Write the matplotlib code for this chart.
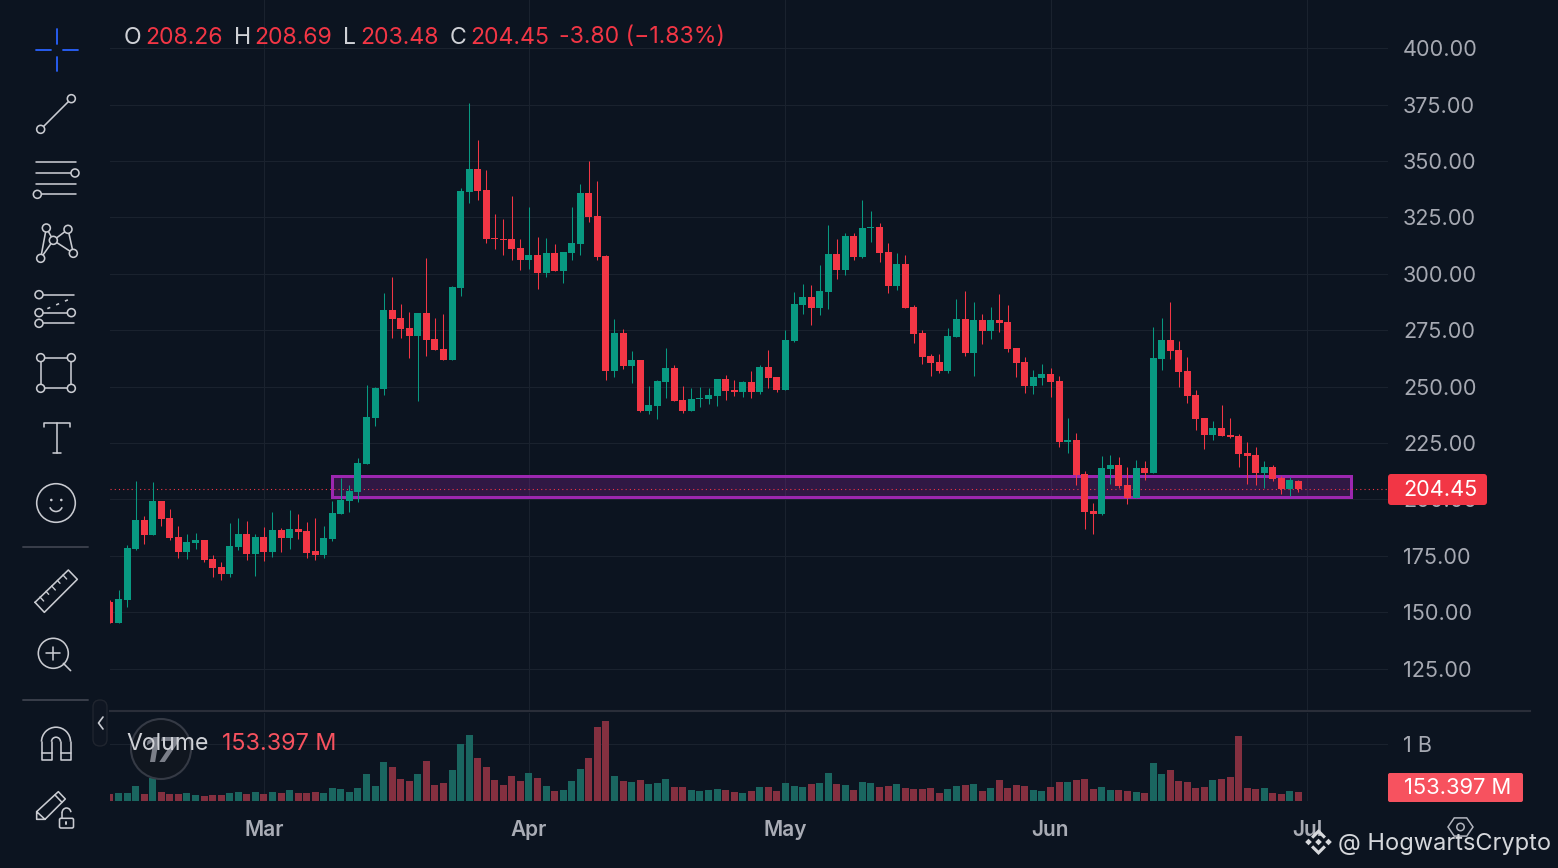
import matplotlib
matplotlib.use("Agg")
import matplotlib.pyplot as plt
from matplotlib.patches import Circle, Rectangle, FancyBboxPatch, Arc, Polygon
import numpy as np

plt.rcParams['font.family'] = ['Inter', 'DejaVu Sans']

# === data, one candle per day ===
opens = [154.6,145.3,155.5,178.1,190.9,184.3,199.3,191.8,183.4,176.7,180.7,182.1,173.6,170.1,167.0,179.0,184.7,175.9,183.4,176.7,
         186.5,182.9,186.9,186.0,177.2,175.4,182.5,193.6,199.3,203.3,215.7,236.1,249.0,284.0,280.5,276.0,272.5,282.7,271.1,266.7,
         261.8,293.7,336.3,346.5,337.2,315.9,315.5,315.5,311.5,306.1,308.4,300.4,309.3,301.3,309.3,313.2,335.8,325.7,307.9,256.9,
         273.8,259.2,261.8,239.2,241.4,252.1,258.3,244.1,239.2,244.5,244.5,245.9,253.4,248.5,247.6,252.1,247.6,258.7,254.3,248.5,
         270.2,286.2,289.8,284.9,292.0,308.8,301.7,316.8,307.5,320.4,320.8,309.7,294.6,304.4,285.3,273.8,263.6,261.0,257.0,272.0,
         280.0,265.0,279.6,274.7,279.6,278.7,267.2,261.0,250.3,253.9,255.6,252.5,225.5,226.4,211.3,194.9,193.6,213.6,215.3,206.5,
         200.7,214.0,211.8,262.3,270.7,266.3,257.0,246.4,236.2,228.6,231.7,228.6,228.2,220.7,219.8,211.8,214.4,209.6,204.7,208.26]
highs = [155.5,159.9,179.8,208.2,192.7,207.8,199.3,195.8,188.3,184.7,185.2,182.1,175.4,172.3,189.6,191.8,190.5,184.7,187.8,194.5,
         187.4,195.4,193.6,190.0,191.8,188.3,199.3,209.5,206.4,218.4,250.8,249.9,291.5,298.6,286.7,283.1,282.7,307.0,280.5,282.2,
         294.6,338.1,375.7,359.3,346.0,326.5,324.3,334.5,315.5,329.6,316.3,315.9,313.2,309.7,329.6,339.8,350.0,341.2,308.4,280.0,
         275.6,265.8,261.8,250.3,253.0,267.1,259.6,250.3,249.4,249.9,249.4,253.4,255.2,253.0,252.5,256.9,259.6,266.3,254.3,275.1,
         292.0,295.5,295.1,304.0,321.7,315.5,318.1,318.1,332.8,327.9,322.6,313.7,309.3,308.4,286.2,275.1,264.5,264.5,276.0,288.9,
         292.4,287.6,282.2,285.3,291.1,286.2,267.2,263.2,257.4,260.1,258.3,254.8,236.1,229.5,212.7,198.5,219.3,219.8,218.9,214.4,
         217.5,217.1,276.5,280.5,287.6,270.3,263.2,248.6,236.2,234.8,241.9,236.2,229.1,225.5,223.3,217.1,215.3,210.5,210.0,208.69]
lows = [145.3,145.3,152.4,177.6,180.3,184.3,188.3,182.1,174.1,173.6,178.1,172.3,165.7,164.3,165.7,177.6,173.2,166.1,172.7,174.5,
        176.7,178.1,182.5,174.1,173.2,174.1,181.6,193.6,194.5,198.9,215.7,232.6,246.3,271.6,271.6,262.7,243.7,263.6,266.3,261.8,
        261.8,290.2,331.4,332.7,313.7,311.0,308.4,306.1,301.7,302.2,293.3,298.6,301.3,296.0,306.1,308.4,323.0,306.1,253.0,254.3,
        257.8,251.6,238.8,237.9,235.7,245.0,243.6,238.3,239.2,241.0,242.3,241.4,244.1,245.9,245.4,245.0,246.8,249.4,247.6,248.5,
        269.8,282.2,277.4,281.8,284.5,297.8,299.5,306.2,307.1,314.2,305.3,291.5,292.9,284.9,269.4,260.1,254.8,256.1,256.1,272.0,
        263.6,254.8,268.9,271.2,274.3,265.4,254.3,247.2,246.8,250.8,245.4,223.3,220.6,206.4,187.0,184.7,193.2,206.9,205.1,198.0,
        200.7,208.7,211.8,257.4,262.3,249.9,242.8,230.8,222.4,226.4,228.2,227.3,214.4,206.9,206.5,205.1,208.2,202.5,201.6,203.48]
closes = [145.3,155.9,178.5,190.9,184.3,199.3,191.4,182.9,176.7,181.2,182.1,173.2,169.6,167.0,179.4,184.7,175.9,183.4,176.7,186.5,
          182.9,186.9,185.6,176.3,175.4,182.9,194.0,199.8,203.8,216.2,236.6,249.4,284.0,280.0,275.6,272.5,282.7,270.7,266.3,261.8,
          294.2,336.7,346.5,336.7,315.5,315.5,315.0,311.0,306.1,308.4,300.4,309.3,301.3,309.7,313.7,335.8,325.2,307.5,256.9,273.8,
          259.2,261.8,239.2,241.9,252.5,258.3,243.6,239.2,244.5,245.0,246.3,253.4,248.1,247.6,252.1,247.6,258.7,253.8,248.5,270.7,
          286.6,289.8,284.9,292.4,308.8,301.7,316.8,307.5,320.4,320.8,309.3,294.6,304.4,284.9,273.4,263.2,260.5,257.0,272.5,280.0,
          265.0,279.6,274.7,279.6,278.2,266.7,260.5,250.3,254.3,255.6,252.1,225.5,226.4,210.9,194.5,193.6,214.0,215.3,206.0,200.7,
          214.0,211.8,262.8,270.7,265.9,256.6,245.9,235.7,228.6,231.7,228.2,227.7,220.2,219.3,211.8,214.4,209.1,204.7,208.7,204.45]
volumes = [124,142,142,266,124,407,159,124,124,142,106,89,106,106,142,159,124,159,124,159,
           142,195,142,142,159,142,230,212,159,230,478,266,690,602,389,354,478,708,283,319,
           549,1009,1168,761,602,372,283,443,354,496,407,266,177,195,354,566,761,1310,1416,443,
           354,336,372,301,319,389,248,248,195,177,195,212,195,159,142,177,248,248,177,319,
           266,248,301,319,496,301,283,195,336,319,248,266,301,230,212,212,230,142,212,266,
           283,301,177,230,372,230,283,266,195,177,248,336,336,372,389,212,248,195,195,177,
           159,142,673,478,549,354,336,230,248,372,389,425,1150,230,212,230,142,124,177,153.397]

price_ticks = [125, 150, 175, 200, 225, 250, 275, 300, 325, 350, 375, 400]
month_labels = ["Mar", "Apr", "May", "Jun", "Jul"]
month_pos = [18, 49, 79, 110, 140]
zone_low, zone_high = 200.9, 210.2
zone_start, zone_end = 26.02, 145.09
last_close = closes[-1]
last_volume = volumes[-1]

# colours
bg = "#0c1420"
grid = "#1a222e"
up = "#089981"
down = "#f23645"
up_v = "#1a6660"
down_v = "#843040"
txt = "#a6a9b2"
icon = "#c9cbd1"

W, H = 1558, 868
fig = plt.figure(figsize=(W / 100, H / 100), dpi=100, facecolor=bg)


def axes_px(left, top, right, bottom):
    return fig.add_axes([left / W, 1 - bottom / H, (right - left) / W, (bottom - top) / H], facecolor=bg)


ax = axes_px(110, 0, 1388, 711)
vol = axes_px(110, 713, 1388, 801)
x = np.arange(len(opens))
x_max = 1278 / 8.55

# === candles ===
colors = [up if c >= o else down for o, c in zip(opens, closes)]
bottoms = [min(o, c) for o, c in zip(opens, closes)]
heights = [abs(c - o) for o, c in zip(opens, closes)]
ax.add_patch(Rectangle((zone_start, zone_low), zone_end - zone_start, zone_high - zone_low,
                       facecolor="#9c27b0", alpha=0.25, edgecolor="none", zorder=2))
ax.add_patch(Rectangle((zone_start, zone_low), zone_end - zone_start, zone_high - zone_low,
                       facecolor="none", edgecolor="#9c27b0", linewidth=2.16, joinstyle="miter", zorder=2.5))
ax.axhline(last_close, color=down, lw=0.8, ls=(0, (1, 2.8)), zorder=3)
ax.vlines(x, lows, highs, color=colors, lw=0.75, zorder=4)
ax.bar(x, heights, bottom=bottoms, width=7 / 8.55, color=colors, linewidth=0, zorder=5)

ax.set_xlim(0, x_max)
ax.set_ylim(106.25, 421.4)
ax.set_xticks(month_pos)
ax.set_xticklabels([])
ax.set_yticks(price_ticks)
ax.set_yticklabels([f"{p:.2f}" for p in price_ticks])
ax.yaxis.tick_right()
ax.tick_params(axis='both', length=0)
ax.tick_params(axis='y', pad=10.8, labelsize=15.6, labelcolor=txt)
ax.grid(True, color=grid, lw=0.8, zorder=0)
ax.set_axisbelow(True)
for lab in ax.get_yticklabels():
    lab.set_verticalalignment('center_baseline')

# === volume ===
vol_colors = [up_v if c >= o else down_v for o, c in zip(opens, closes)]
vol.bar(x, volumes, width=7 / 8.55, color=vol_colors, linewidth=0, zorder=3)
vol.set_xlim(0, x_max)
vol.set_ylim(0, 1557)
vol.set_xticks(month_pos)
vol.set_xticklabels(month_labels, fontsize=15, fontweight=600, color="#a9acb5")
vol.set_yticks([1000])
vol.set_yticklabels(["1 B"])
vol.yaxis.tick_right()
vol.tick_params(axis='both', length=0)
vol.tick_params(axis='y', pad=10.8, labelsize=15.6, labelcolor=txt)
vol.tick_params(axis='x', pad=14)
vol.grid(True, color=grid, lw=0.8, zorder=0)
vol.set_axisbelow(True)
for a in (ax, vol):
    for s in a.spines.values():
        s.set_visible(False)

# === overlay in pixel coordinates: toolbar, labels ===
ov = fig.add_axes([0, 0, 1, 1], zorder=10)
ov.set_xlim(0, W)
ov.set_ylim(H, 0)
ov.axis("off")
ov.patch.set_alpha(0)


def z7(pts):
    return [(a / 3, b / 3) for a, b in pts]


def z8(pts):
    return [(a / 3, 420 + b / 3) for a, b in pts]


def line(pts, color=icon, lw=1.15, **kw):
    xs, ys = zip(*pts)
    ov.plot(xs, ys, color=color, lw=lw, solid_capstyle="round", **kw)


def dots(pts, r=4):
    for p in pts:
        ov.add_patch(Circle(p, r, fc=bg, ec=icon, lw=1.15, zorder=5))


ov.plot([110, 1530], [711, 711], color="#2a2e39", lw=1.5)

# crosshair
for seg in ([(36, 50), (51, 50)], [(63, 50), (78, 50)], [(57, 29), (57, 44)], [(57, 57), (57, 71)]):
    line(seg, color="#2962ff", lw=1.3)
# trend line
p = z7([(122, 388), (214, 296)])
line(p)
dots(p)
# parallel lines
for seg in ([(108, 485), (228, 485)], [(108, 519), (225, 519)], [(108, 551), (228, 551)], [(112, 583), (228, 583)]):
    line(z7(seg))
dots(z7([(225, 519), (112, 583)]))
# pattern
pts = z7([(139, 684), (204, 688), (122, 775), (220, 760), (160, 721)])
for i, j in [(0, 4), (4, 1), (1, 3), (3, 4), (4, 2), (0, 2)]:
    line([pts[i], pts[j]])
dots(pts)
# forecast
for seg in ([(117, 884), (222, 884)], [(117, 938), (214, 938)], [(117, 970), (222, 970)]):
    line(z7(seg))
line(z7([(142, 926), (212, 896)]), ls=(0, (2, 4)))
dots(z7([(117, 884), (117, 938), (214, 938), (117, 970)]))
# rectangle
pts = z7([(122, 1073), (214, 1073), (214, 1165), (122, 1165), (122, 1073)])
line(pts)
dots(pts[:4])
# text tool
line(z8([(132, 20), (132, 8), (210, 8), (210, 20)]))
line(z8([(171, 8), (171, 100)]))
line(z8([(158, 100), (184, 100)]))
# smiley
ov.add_patch(Circle((56, 503), 19.3, fc="none", ec=icon, lw=1.15))
ov.add_patch(Circle((51.3, 500), 1.3, fc=icon, ec="none"))
ov.add_patch(Circle((61.3, 500), 1.3, fc=icon, ec="none"))
ov.add_patch(Arc((56, 505), 13, 13, theta1=20, theta2=160, ec=icon, lw=1.15))
# separators
line([(23, 546.7), (88, 546.7)], color="#3a3f4b", lw=1.4)
line([(23, 700), (88, 700)], color="#3a3f4b", lw=1.4)
# ruler
pts = z8([(105, 547), (205, 450), (232, 478), (133, 577), (105, 547)])
line(pts)
for a, b, c, d in [(120, 531, 131, 543), (138, 514, 146, 523), (155, 498, 166, 510), (172, 481, 180, 490), (189, 465, 200, 477)]:
    line(z8([(a, b), (c, d)]), lw=1)
# zoom
ov.add_patch(Circle((53.3, 653.3), 15, fc="none", ec=icon, lw=1.15))
line([(46.5, 653.3), (60, 653.3)])
line([(53.3, 646.5), (53.3, 660)])
line(z8([(190, 730), (212, 752)]))
# collapse button
ov.add_patch(FancyBboxPatch((93, 700), 14, 46, boxstyle="round,pad=0,rounding_size=7", fc="#0f1622", ec="#20252f", lw=1))
line([(103, 717), (98.5, 723), (103, 729)], lw=1.2)
# magnet
ov.add_patch(Arc((56, 741.7), 29, 29, theta1=180, theta2=360, ec=icon, lw=1.15))
ov.add_patch(Arc((56, 741.7), 9, 9, theta1=180, theta2=360, ec=icon, lw=1.15))
line(z8([(125, 965), (125, 1020), (155, 1020), (155, 965)]))
line(z8([(212, 965), (212, 1020), (182, 1020), (182, 965)]))
line(z8([(125, 998), (155, 998)]))
line(z8([(182, 998), (212, 998)]))
# pencil with open lock
line(z8([(110, 1175), (110, 1198), (135, 1198), (196, 1137), (175, 1115), (110, 1175), (135, 1198)]))
line(z8([(165, 1125), (186, 1147)]))
ov.add_patch(FancyBboxPatch((59.5, 818.3), 14, 9.7, boxstyle="round,pad=0,rounding_size=1.5", fc=bg, ec=icon, lw=1.15))
ov.add_patch(Arc((66.5, 813), 9, 10, theta1=180, theta2=350, ec=icon, lw=1.15))
line([(62, 813), (62, 818)])
line([(66.4, 822), (66.4, 824)], lw=1.4)

# OHLC legend
red_txt = "#f23645"
white_txt = "#cfd1d6"
for s, px, c in [("O", 124, white_txt), ("208.26", 145, red_txt), ("H", 234, white_txt), ("208.69", 254, red_txt),
                 ("L", 343, white_txt), ("203.48", 360, red_txt), ("C", 450, white_txt), ("204.45", 470, red_txt),
                 ("-3.80 (\u22121.83%)", 559, red_txt)]:
    ov.text(px, 37.5, s, color=c, fontsize=16.6, ha="left", va="center")

# price label
ov.add_patch(FancyBboxPatch((1388, 474), 99, 31, boxstyle="round,pad=0,rounding_size=3", fc=down, ec="none"))
ov.text(1440.5, 490.5, f"{last_close:.2f}", color="white", fontsize=15.6, ha="center", va="center")
ov.add_patch(FancyBboxPatch((1388, 773), 135, 29, boxstyle="round,pad=0,rounding_size=2", fc="#f7525f", ec="none"))
ov.text(1458, 788.5, f"{last_volume:.3f} M", color="white", fontsize=15.8, ha="center", va="center")

# TV logo and volume legend
ov.add_patch(Circle((161, 749), 30, fc="#10161f", ec="#353a45", lw=1.5))
ov.text(161, 753, "17", color="#7b7f89", fontsize=25, fontweight="bold", style="italic", ha="center", va="center")
ov.text(126, 743.5, "Volume", color=white_txt, fontsize=16.6, ha="left", va="center")
ov.text(222, 743.5, f"{last_volume:.3f} M", color="#f7525f", fontsize=16.8, ha="left", va="center")

# settings icon
ang = np.deg2rad(np.arange(0, 360, 60))
ov.add_patch(Polygon(np.c_[1460.5 + 12.5 * np.cos(ang), 827 + 10.5 * np.sin(ang)], closed=True, fc="none", ec="#b2b5be", lw=1.1))
ov.add_patch(Circle((1460.5, 827), 3.7, fc="none", ec="#b2b5be", lw=1.1))

# watermark, binance mark built from diamonds and chevrons
wm = "#d6d8dc"
for cx, cy, r in [(1308.5, 842, 3.3), (1328.5, 842, 3.3), (1318.5, 842, 3.3)]:
    ov.add_patch(Polygon([(cx - r, cy), (cx, cy - r), (cx + r, cy), (cx, cy + r)], closed=True, fc=wm, ec="none"))
ov.add_patch(Polygon([(1318.5, 829), (1326, 836.5), (1323.8, 838.7), (1318.5, 833.5), (1313.2, 838.7), (1311, 836.5)], closed=True, fc=wm, ec="none"))
ov.add_patch(Polygon([(1318.5, 855), (1326, 847.5), (1323.8, 845.3), (1318.5, 850.5), (1313.2, 845.3), (1311, 847.5)], closed=True, fc=wm, ec="none"))
ov.text(1338, 844, "@ HogwartsCrypto", color=wm, fontsize=17, ha="left", va="center")

fig.savefig("out.png", dpi=100, facecolor=bg)
